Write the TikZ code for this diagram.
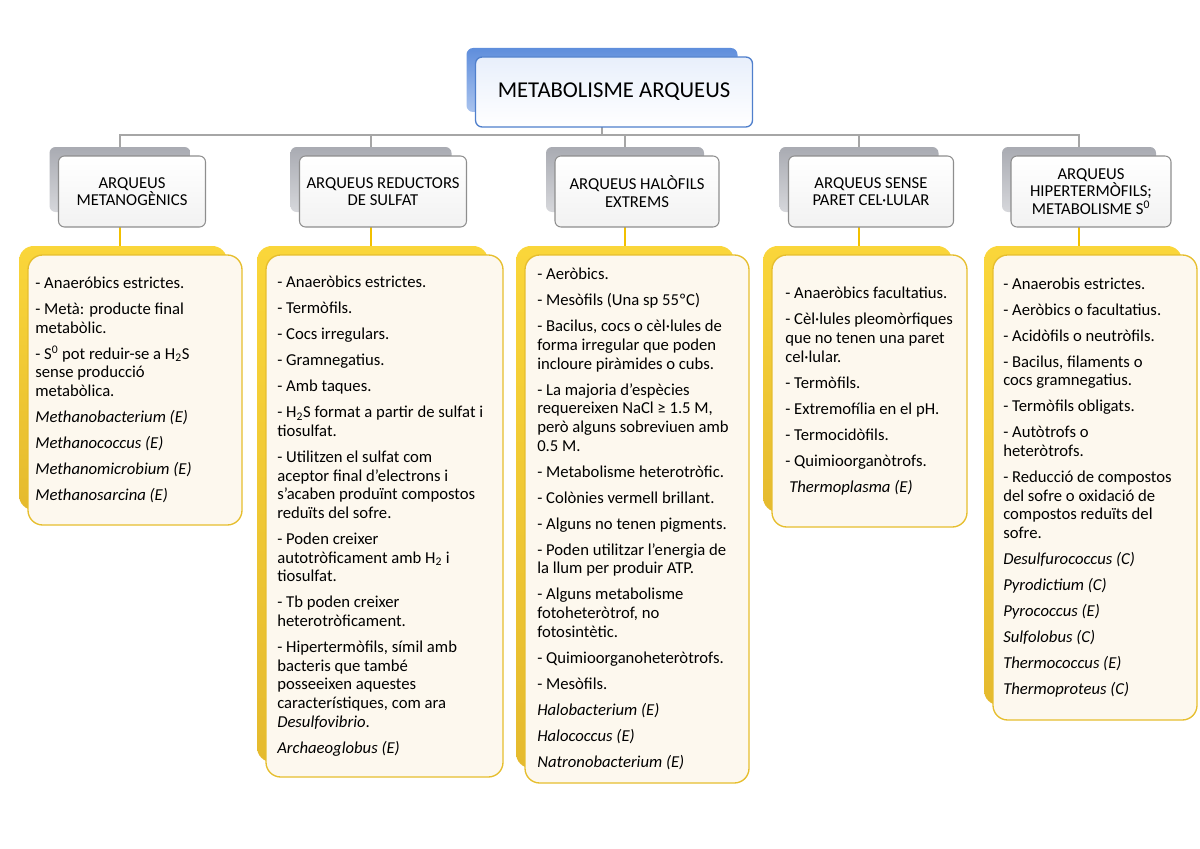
\documentclass[tikz,border=0pt]{standalone}
\usepackage{fontspec}
\setmainfont{Carlito}
\usepackage{tikz}
\usetikzlibrary{calc,backgrounds,positioning}
\definecolor{titleline}{HTML}{4F7FCC}
\definecolor{titletop}{HTML}{E8EFFB}
\definecolor{titleshA}{HTML}{5F8EDC}
\definecolor{titleshB}{HTML}{A9C3EE}
\definecolor{hdrline}{HTML}{8E8E8E}
\definecolor{hdrfill}{HTML}{F2F2F2}
\definecolor{hdrshA}{HTML}{A9ABB2}
\definecolor{hdrshB}{HTML}{D6D7DB}
\definecolor{cardline}{HTML}{E6BE2E}
\definecolor{cardfill}{HTML}{FDF8EE}
\definecolor{cardshA}{HTML}{FAD63A}
\definecolor{cardshB}{HTML}{E5BA2E}
\definecolor{lineg}{HTML}{A6A6A6}
\definecolor{liney}{HTML}{F2C000}
\tikzstyle{titlebox}=[draw=titleline, line width=1pt, rounded corners=5pt, top color=titletop, bottom color=white, font=\fontsize{17}{20}\selectfont]
\tikzstyle{titleboxback}=[rounded corners=5pt, top color=titleshA, bottom color=titleshB]
\tikzstyle{hdr}=[draw=hdrline, line width=0.8pt, rounded corners=4.5pt, top color=white, bottom color=hdrfill, align=center, font=\fontsize{12.5}{13}\selectfont]
\tikzstyle{hdrback}=[rounded corners=4.5pt, top color=hdrshA, bottom color=hdrshB]
\tikzstyle{card}=[draw=cardline, line width=1pt, rounded corners=11pt, fill=cardfill]
\tikzstyle{cardback}=[rounded corners=11pt, top color=cardshA, bottom color=cardshB]
\tikzstyle{facts}=[anchor=west, align=left, inner sep=0pt, font=\fontsize{12.5}{14}\selectfont]
\tikzstyle{greyline}=[draw=lineg, line width=1.1pt]
\tikzstyle{goldline}=[draw=liney, line width=1.1pt]
% back box at #3, front box shifted down-right
\newcommand{\shadowNbox}[6]{
	\node[#1back, minimum width={(#4-6)*0.75pt}, minimum height={(#5-6)*0.75pt}] (#2sh) at #3 {};
	\node[#1, minimum width={#4*0.75pt}, minimum height={#5*0.75pt}] (#2) at ($#3+(12,12)$) {#6};
}

\begin{document}
\begin{tikzpicture}[x=0.75pt,y=-0.75pt]
	\useasboundingbox (0,0) rectangle (1200,849);
	\shadowNbox{titlebox}{top}{(602,80)}{277}{70}{METABOLISME ARQUEUS}
	\shadowNbox{hdr}{hdrA}{(120,179.5)}{147}{71}{ARQUEUS\\METANOGÈNICS}
	\shadowNbox{hdr}{hdrB}{(371,179.5)}{167}{71}{ARQUEUS REDUCTORS\\DE SULFAT}
	\shadowNbox{hdr}{hdrC}{(625,179.5)}{164}{71}{ARQUEUS HALÒFILS\\EXTREMS}
	\shadowNbox{hdr}{hdrD}{(859,179.5)}{165}{71}{ARQUEUS SENSE\\PARET CEL·LULAR}
	\shadowNbox{hdr}{hdrE}{(1079,179.5)}{160}{71}{ARQUEUS\\HIPERTERMÒFILS;\\METABOLISME S\textsuperscript{0}}
	\shadowNbox{card}{boxA}{(123,378)}{214}{270}{}
	\shadowNbox{card}{boxB}{(372.5,504)}{237}{522}{}
	\shadowNbox{card}{boxC}{(625,507)}{224}{528}{}
	\shadowNbox{card}{boxD}{(857.5,379)}{195}{272}{}
	\shadowNbox{card}{boxE}{(1083,475.5)}{204}{465}{}
	\node[facts] (txtA) at (35,390) {- Anaeróbics estrictes.\\[5.5pt]
		- Metà: producte final\\metabòlic.\\[5.5pt]
		- S\textsuperscript{0} pot reduir-se a H\textsubscript{2}S\\sense producció\\metabòlica.\\[5.5pt]
		\textit{Methanobacterium (E)}\\[5.5pt]
		\textit{Methanococcus (E)}\\[5.5pt]
		\textit{Methanomicrobium (E)}\\[5.5pt]
		\textit{Methanosarcina (E)}};
	\node[facts] (txtB) at (277,516) {- Anaeròbics estrictes.\\[5.5pt]
		- Termòfils.\\[5.5pt]
		- Cocs irregulars.\\[5.5pt]
		- Gramnegatius.\\[5.5pt]
		- Amb taques.\\[5.5pt]
		- H\textsubscript{2}S format a partir de sulfat i\\tiosulfat.\\[5.5pt]
		- Utilitzen el sulfat com\\aceptor final d’electrons i\\s’acaben produïnt compostos\\reduïts del sofre.\\[5.5pt]
		- Poden creixer\\autotròficament amb H\textsubscript{2} i\\tiosulfat.\\[5.5pt]
		- Tb poden creixer\\heterotròficament.\\[5.5pt]
		- Hipertermòfils, símil amb\\bacteris que també\\posseeixen aquestes\\característiques, com ara\\\textit{Desulfovibrio}.\\[5.5pt]
		\textit{Archaeoglobus (E)}};
	\node[facts] (txtC) at (537,519) {- Aeròbics.\\[5.5pt]
		- Mesòfils (Una sp 55ºC)\\[5.5pt]
		- Bacilus, cocs o cèl·lules de\\forma irregular que poden\\incloure piràmides o cubs.\\[5.5pt]
		- La majoria d’espècies\\requereixen NaCl ≥ 1.5 M,\\però alguns sobreviuen amb\\0.5 M.\\[5.5pt]
		- Metabolisme heterotròfic.\\[5.5pt]
		- Colònies vermell brillant.\\[5.5pt]
		- Alguns no tenen pigments.\\[5.5pt]
		- Poden utilitzar l’energia de\\la llum per produir ATP.\\[5.5pt]
		- Alguns metabolisme\\fotoheteròtrof, no\\fotosintètic.\\[5.5pt]
		- Quimioorganoheteròtrofs.\\[5.5pt]
		- Mesòfils.\\[5.5pt]
		\textit{Halobacterium (E)}\\[5.5pt]
		\textit{Halococcus (E)}\\[5.5pt]
		\textit{Natronobacterium (E)}};
	\node[facts] (txtD) at (785,391) {- Anaeròbics facultatius.\\[5.5pt]
		- Cèl·lules pleomòrfiques\\que no tenen una paret\\cel·lular.\\[5.5pt]
		- Termòfils.\\[5.5pt]
		- Extremofília en el pH.\\[5.5pt]
		- Termocidòfils.\\[5.5pt]
		- Quimioorganòtrofs.\\[5.5pt]
		\hspace{3pt}\textit{Thermoplasma (E)}};
	\node[facts] (txtE) at (1003,487.5) {- Anaerobis estrictes.\\[5.5pt]
		- Aeròbics o facultatius.\\[5.5pt]
		- Acidòfils o neutròfils.\\[5.5pt]
		- Bacilus, filaments o\\cocs gramnegatius.\\[5.5pt]
		- Termòfils obligats.\\[5.5pt]
		- Autòtrofs o\\heteròtrofs.\\[5.5pt]
		- Reducció de compostos\\del sofre o oxidació de\\compostos reduïts del\\sofre.\\[5.5pt]
		\textit{Desulfurococcus (C)}\\[5.5pt]
		\textit{Pyrodictium (C)}\\[5.5pt]
		\textit{Pyrococcus (E)}\\[5.5pt]
		\textit{Sulfolobus (C)}\\[5.5pt]
		\textit{Thermococcus (E)}\\[5.5pt]
		\textit{Thermoproteus (C)}};
	\begin{scope}[on background layer]
		\coordinate (bar) at (602,135);
		\draw[greyline] (topsh.south) -- (bar);
		\foreach \hx in {A,B,C,D,E} {
			\draw[greyline] (bar) -| (hdr\hx sh.north);
			\draw[goldline] (hdr\hx sh.south) -- (hdr\hx sh.south |- box\hx sh.north);
		}
	\end{scope}
\end{tikzpicture}
\end{document}
